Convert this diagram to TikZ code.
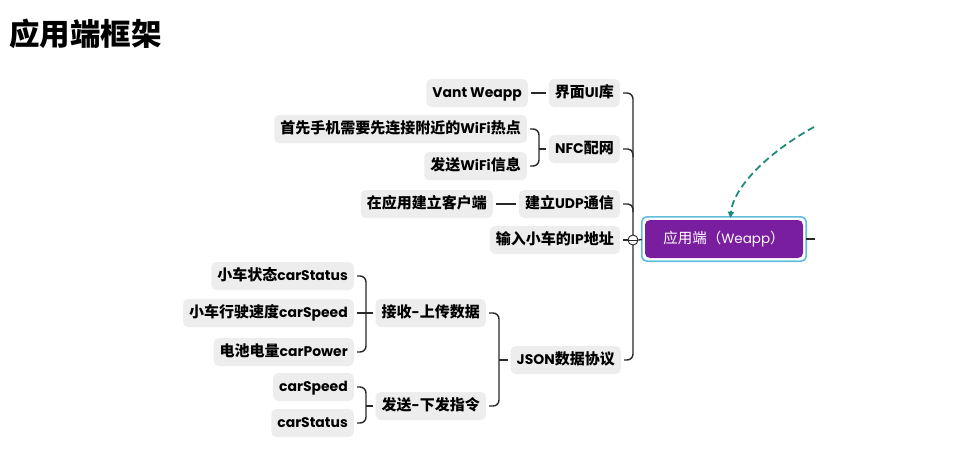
\documentclass[tikz,border=0pt]{standalone}
\usepackage{fontspec}
\setmainfont{Noto Sans CJK SC}
\newfontfamily\ltfont{Poppins}[Scale=0.93]
\newcommand\lt[1]{{\ltfont #1}}
\usetikzlibrary{calc,arrows.meta}
\definecolor{boxgray}{RGB}{237,237,237}
\definecolor{linec}{RGB}{40,40,40}
\definecolor{purplec}{RGB}{122,30,160}
\definecolor{selc}{RGB}{95,190,222}
\definecolor{tealc}{RGB}{30,140,120}
\begin{document}
\begin{tikzpicture}[x=1pt,y=-1pt,
  box/.style={fill=boxgray, rounded corners=5pt, inner xsep=6pt, inner ysep=0pt,
    minimum height=28pt, text height=11.5pt, text depth=3.5pt,
    font=\fontsize{15}{18}\selectfont\bfseries, anchor=east},
  mainbox/.style={fill=purplec, text=white, rounded corners=5pt, minimum width=158pt,
    minimum height=38pt, inner sep=0pt, font=\fontsize{14.5}{18}\selectfont},
  titlefont/.style={font=\fontsize{30.5}{34}\selectfont\bfseries, anchor=west, inner sep=0pt},
  conn/.style={draw=linec, line width=1.4pt, shorten <=3pt, shorten >=3pt},
  rc/.style={rounded corners=6pt},
  knob/.style={circle, draw=linec, fill=white, line width=0.9pt, minimum size=10pt, inner sep=0pt}]
\useasboundingbox[fill=white] (0,0) rectangle (958,459);

\node[titlefont] (title) at (9,34) {应用端框架};

% main node
\node[mainbox] (main) at (724,239) {应用端（\lt{Weapp}）};
\draw[selc, line width=1.6pt, rounded corners=5pt]
  ([shift={(-3,3)}]main.south west) rectangle ([shift={(3,-3)}]main.north east);

% column A
\node[box] (ui)   at (620,93)  {界面\lt{UI}库};
\node[box] (nfc)  at (620,149) {\lt{NFC}配网};
\node[box] (udp)  at (620,204) {建立\lt{UDP}通信};
\node[box] (ip)   at (620,240) {输入小车的\lt{IP}地址};
\node[box] (json) at (621,360) {\lt{JSON}数据协议};

% column B
\node[box] (vant)   at (528,93)  {\lt{Vant Weapp}};
\node[box] (wifi1)  at (527,129) {首先手机需要先连接附近的\lt{WiFi}热点};
\node[box] (wifi2)  at (527,166) {发送\lt{WiFi}信息};
\node[box] (client) at (493,204) {在应用建立客户端};
\node[box] (recv)   at (486,313) {接收\lt{-}上传数据};
\node[box] (send)   at (486,406) {发送\lt{-}下发指令};

% column C
\node[box] (st)  at (354,276) {小车状态\lt{carStatus}};
\node[box] (sp)  at (354,313) {小车行驶速度\lt{carSpeed}};
\node[box] (pw)  at (354,352) {电池电量\lt{carPower}};
\node[box] (sp2) at (354,387) {\lt{carSpeed}};
\node[box] (st2) at (354,423) {\lt{carStatus}};

% coordinates
\coordinate (tk) at (633,240);
\coordinate (bnfc) at (539,149);
\coordinate (brecv) at (366,313);
\coordinate (bsend) at (366,406);
\coordinate (bjson) at (499,360);
\coordinate (stub) at (815,239);
\coordinate (arrs) at (814,127);

% trunk
\draw[conn, rc] (ui.east) -| (tk) |- (json.east);
\draw[conn, rounded corners=5pt, shorten >=0pt] (nfc.east) -| ($(tk|-nfc.east)+(0,8)$);
\draw[conn, rounded corners=5pt, shorten >=0pt] (udp.east) -| ($(tk|-udp.east)+(0,8)$);
\node[knob] (tkc) at (tk) {};
\draw[linec, line width=0.8pt] (tkc.west) -- (tkc.east);
\draw[conn, shorten >=0pt] (ip.east) -- (tkc.west);
\draw[conn, shorten <=0pt] (tkc.east) -- (main.west);

% simple links
\draw[conn] (vant.east) -- (ui.west);
\draw[conn] (client.east) -- (udp.west);

% braces
\draw[conn, rc] (wifi1.east) -| (bnfc) |- (wifi2.east);
\draw[conn, shorten <=0pt] (bnfc) -- (nfc.west);

\draw[conn, rc] (st.east) -| (brecv) |- (pw.east);
\draw[conn] (sp.east) -- (recv.west);

\draw[conn, rc] (sp2.east) -| (bsend) |- (st2.east);
\draw[conn, shorten <=0pt] (bsend) -- (send.west);

\draw[conn, rc] (recv.east) -| (bjson) |- (send.east);
\draw[conn, shorten <=0pt] (bjson) -- (json.west);

% stub to the right
\draw[linec, line width=2pt, shorten <=3pt] (main.east) -- (stub);

% dashed relation arrow
\draw[tealc, line width=1.8pt, dash pattern=on 7pt off 4pt, -{Triangle[length=6pt,width=6pt]}, shorten >=2pt]
  (arrs) .. controls (772,150) and (734,185) .. ([xshift=6pt]main.north);
\end{tikzpicture}
\end{document}
